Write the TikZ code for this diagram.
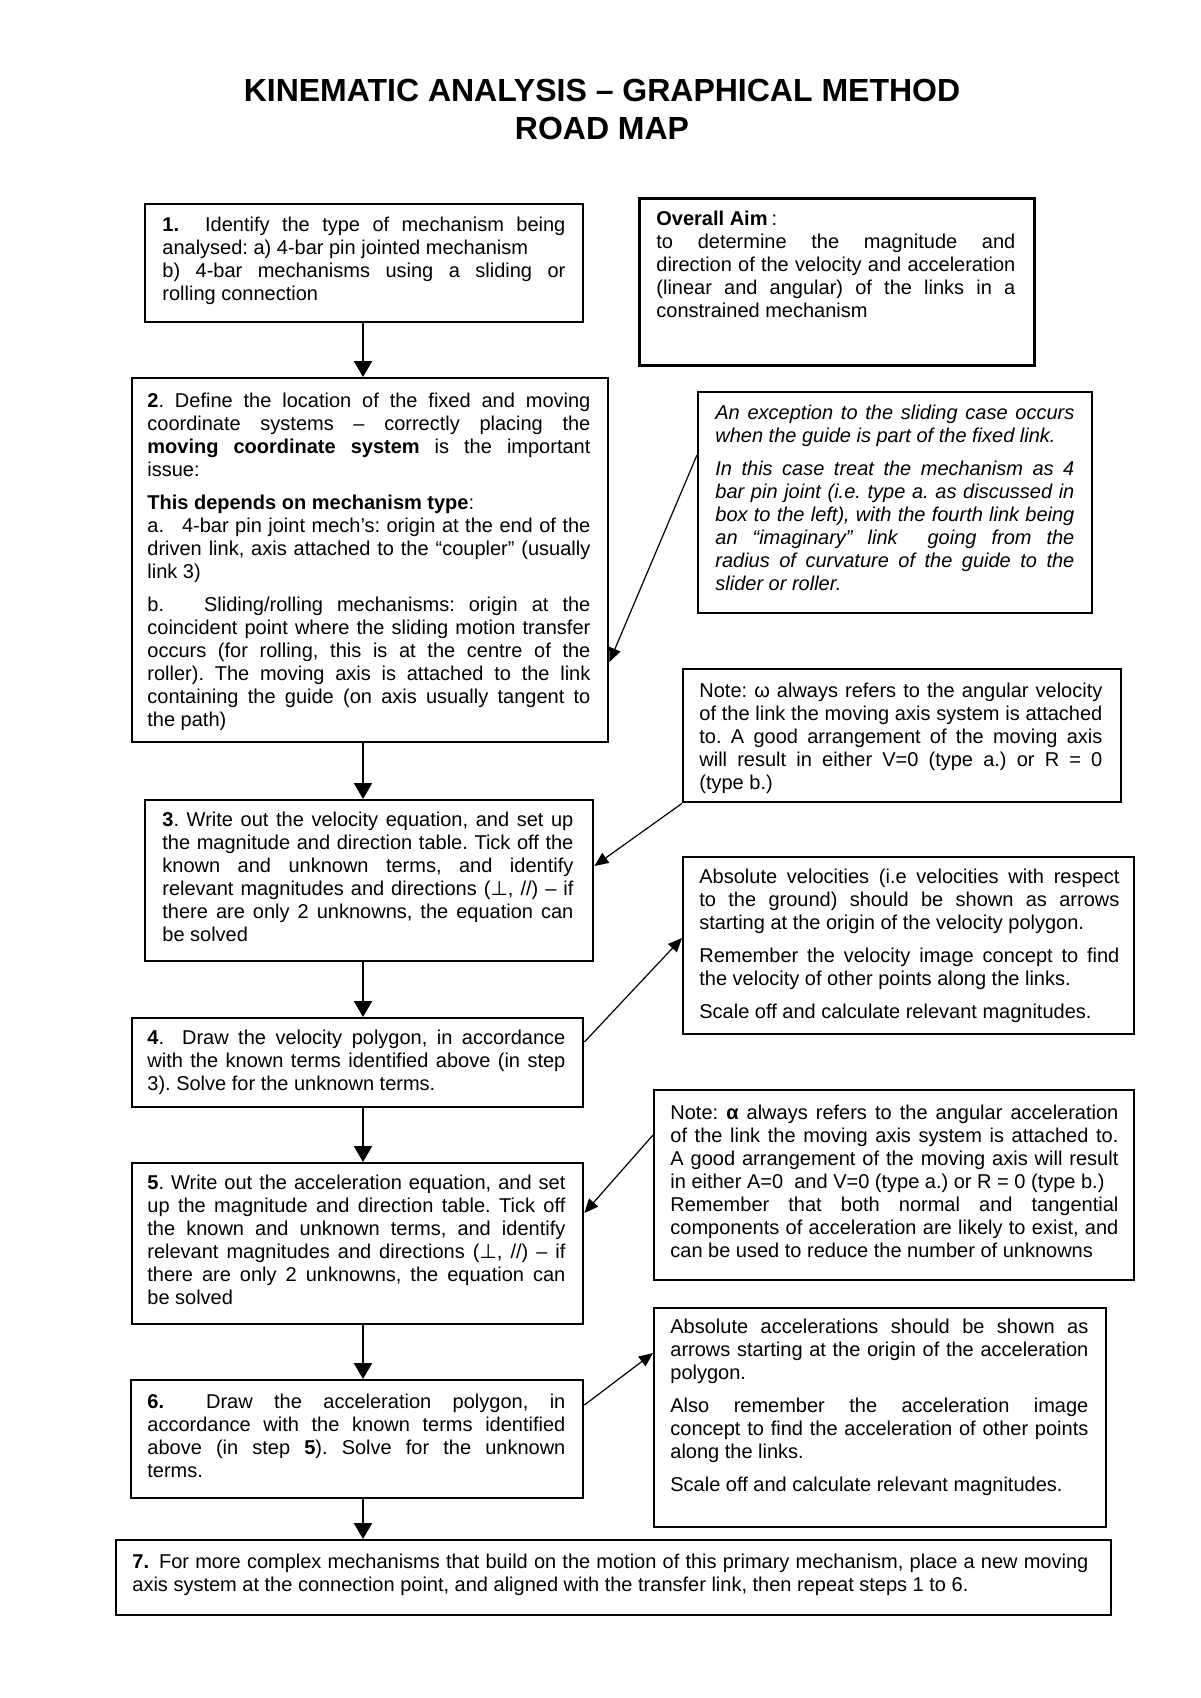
\documentclass[tikz,border=0pt]{standalone}
\usepackage{fontspec}
\setmainfont{Liberation Sans}
\newfontfamily\dejavu{DejaVu Sans}
\usetikzlibrary{arrows.meta}
\tolerance=10000
\hbadness=10000
\hyphenpenalty=10000
\exhyphenpenalty=10000
\frenchspacing
\newcommand{\pskip}{\par\vspace{5pt}}
\newcommand{\perpsym}{{\dejavu ⊥}}
\begin{document}
\begin{tikzpicture}[x=0.5pt,y=-0.5pt,
  frame/.style={draw, line width=1.2pt, inner sep=0pt, anchor=north west},
  aimframe/.style={frame, line width=1.6pt},
  txt/.style={anchor=base west, inner sep=0pt, align=justify, font=\fontsize{10pt}{11.5pt}\selectfont\frenchspacing},
  ttl/.style={anchor=base, inner sep=0pt, font=\fontsize{16pt}{19pt}\selectfont\bfseries},
  vline/.style={line width=1.2pt, -{Triangle[length=8pt,width=9pt]}},
  sline/.style={line width=0.6pt, -{Triangle[length=7pt,width=6pt]}}]
\useasboundingbox (0,0) rectangle (1200,1698);

% title
\node[ttl] (title1) at (602,101) {KINEMATIC ANALYSIS – GRAPHICAL METHOD};
\node[ttl] (title2) at (602,139) {ROAD MAP};

% frames
\node[frame, minimum width=219pt, minimum height=59pt] (b1) at (144,203) {};
\node[aimframe, minimum width=197.5pt, minimum height=83.5pt] (aim) at (638,197) {};
\node[frame, minimum width=238pt, minimum height=182pt] (b2) at (131,377) {};
\node[frame, minimum width=197pt, minimum height=110.5pt] (exc) at (697,391) {};
\node[frame, minimum width=219pt, minimum height=66.5pt] (om) at (682,668) {};
\node[frame, minimum width=224pt, minimum height=80.5pt] (b3) at (144,799) {};
\node[frame, minimum width=225.5pt, minimum height=88.5pt] (av) at (682,856) {};
\node[frame, minimum width=225.5pt, minimum height=44.5pt] (b4) at (131,1017) {};
\node[frame, minimum width=240pt, minimum height=95pt] (al) at (653,1089) {};
\node[frame, minimum width=225.5pt, minimum height=80.5pt] (b5) at (131,1162) {};
\node[frame, minimum width=226pt, minimum height=109.5pt] (aa) at (653,1307) {};
\node[frame, minimum width=226pt, minimum height=59pt] (b6) at (130,1379) {};
\node[frame, minimum width=497.5pt, minimum height=37.5pt] (b7) at (115,1539) {};

% texts
\node[txt, text width=201.5pt] (t1) at (162,231) {\textbf{1.}\hspace{13pt}Identify the type of mechanism being\linebreak analysed: a) 4-bar pin jointed mechanism\\ b) 4-bar mechanisms using a sliding or\linebreak rolling connection};

\node[txt, text width=179.5pt] (taim) at (656,225) {\textbf{Overall Aim}\kern2pt:\\ to determine the magnitude and\linebreak direction of the velocity and acceleration\linebreak (linear and angular) of the links in a\linebreak constrained mechanism};

\node[txt, text width=221.5pt] (t2) at (147,407) {\textbf{2}. Define the location of the fixed and moving\linebreak coordinate systems – correctly placing the\linebreak \textbf{moving coordinate system} is the important\linebreak issue:\pskip
\textbf{This depends on mechanism type}:\\ a.\hspace{9pt}4-bar pin joint mech's: origin at the end of the\linebreak driven link, axis attached to the “coupler” (usually\linebreak link 3)\pskip
b.\hspace{20pt}Sliding/rolling mechanisms: origin at the\linebreak coincident point where the sliding motion transfer\linebreak occurs (for rolling, this is at the centre of the\linebreak roller). The moving axis is attached to the link\linebreak containing the guide (on axis usually tangent to\linebreak the path)};

\node[txt, text width=179.5pt, font=\fontsize{10pt}{11.5pt}\selectfont\itshape\frenchspacing] (texc) at (715,419) {An exception to the sliding case occurs\linebreak when the guide is part of the fixed link.\pskip
In this case treat the mechanism as 4\linebreak bar pin joint (i.e. type a. as discussed in\linebreak box to the left), with the fourth link being\linebreak an “imaginary” link\ \ going from the\linebreak radius of curvature of the guide to the\linebreak slider or roller.};

\node[txt, text width=201.5pt] (tom) at (699,697) {Note: ω always refers to the angular velocity\linebreak of the link the moving axis system is attached\linebreak to. A good arrangement of the moving axis\linebreak will result in either V=0 (type a.) or R = 0\linebreak (type b.)};

\node[txt, text width=205.5pt] (t3) at (162,826) {\textbf{3}. Write out the velocity equation, and set up\linebreak the magnitude and direction table. Tick off the\linebreak known and unknown terms, and identify\linebreak relevant magnitudes and directions (\perpsym, //) – if\linebreak there are only 2 unknowns, the equation can\linebreak be solved};

\node[txt, text width=210pt] (tav) at (699,883) {Absolute velocities (i.e velocities with respect\linebreak to the ground) should be shown as arrows\linebreak starting at the origin of the velocity polygon.\pskip
Remember the velocity image concept to find\linebreak the velocity of other points along the links.\pskip
Scale off and calculate relevant magnitudes.};

\node[txt, text width=209pt] (t4) at (147,1044) {\textbf{4}.\hspace{9pt}Draw the velocity polygon, in accordance\linebreak with the known terms identified above (in step\linebreak 3). Solve for the unknown terms.};

\node[txt, text width=224pt] (tal) at (670,1119) {Note: \textbf{α} always refers to the angular acceleration\linebreak of the link the moving axis system is attached to.\linebreak A good arrangement of the moving axis will result\linebreak in either A=0\ \ and V=0 (type a.) or R = 0 (type b.)\\ Remember that both normal and tangential\linebreak components of acceleration are likely to exist, and\linebreak can be used to reduce the number of unknowns};

\node[txt, text width=209pt] (t5) at (147,1189) {\textbf{5}. Write out the acceleration equation, and set\linebreak up the magnitude and direction table. Tick off\linebreak the known and unknown terms, and identify\linebreak relevant magnitudes and directions (\perpsym, //) – if\linebreak there are only 2 unknowns, the equation can\linebreak be solved};

\node[txt, text width=209pt] (taa) at (670,1333) {Absolute accelerations should be shown as\linebreak arrows starting at the origin of the acceleration\linebreak polygon.\pskip
Also remember the acceleration image\linebreak concept to find the acceleration of other points\linebreak along the links.\pskip
Scale off and calculate relevant magnitudes.};

\node[txt, text width=209pt] (t6) at (147,1408) {\textbf{6.}\hspace{21pt}Draw the acceleration polygon, in\linebreak accordance with the known terms identified\linebreak above (in step \textbf{5}). Solve for the unknown\linebreak terms.};

\node[txt, text width=478pt] (t7) at (132,1568) {\textbf{7.}\hspace{5pt}For more complex mechanisms that build on the motion of this primary mechanism, place a new moving\linebreak axis system at the connection point, and aligned with the transfer link, then repeat steps 1 to 6.};

% main flow arrows
\coordinate (ax) at (363,0);
\draw[vline] (b1.south -| ax) -- (b2.north -| ax);
\draw[vline] (b2.south -| ax) -- (b3.north -| ax);
\draw[vline] (b3.south -| ax) -- (b4.north -| ax);
\draw[vline] (b4.south -| ax) -- (b5.north -| ax);
\draw[vline] (b5.south -| ax) -- (b6.north -| ax);
\draw[vline] (b6.south -| ax) -- (b7.north -| ax);

% side connectors
\draw[sline] ([yshift=-32pt]exc.north west) -- ([yshift=-142.5pt]b2.north east);
\draw[sline] (om.south west) -- ([yshift=-33.5pt]b3.north east);
\draw[sline] ([yshift=-12.5pt]b4.north east) -- ([yshift=-41pt]av.north west);
\draw[sline] ([yshift=-23pt]al.north west) -- ([yshift=-25.5pt]b5.north east);
\draw[sline] ([yshift=-13pt]b6.north east) -- ([yshift=-23pt]aa.north west);
\end{tikzpicture}
\end{document}
